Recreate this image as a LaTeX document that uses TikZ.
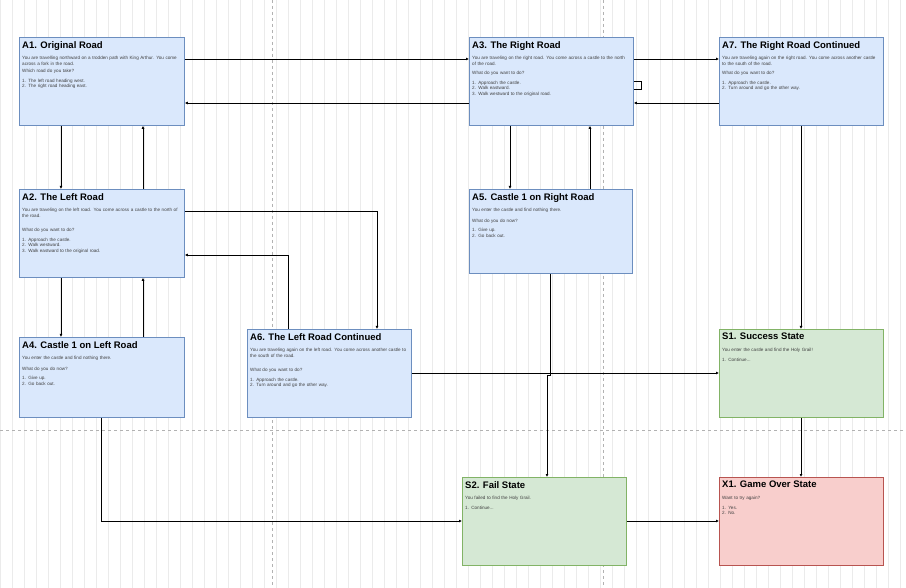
\documentclass[tikz,border=0pt]{standalone}
\usepackage{fontspec}
\setmainfont{Liberation Sans}
\usetikzlibrary{arrows.meta}
\definecolor{bfill}{HTML}{DAE8FC}\definecolor{bdraw}{HTML}{6C8EBF}
\definecolor{gfill}{HTML}{D5E8D4}\definecolor{gdraw}{HTML}{82B366}
\definecolor{rfill}{HTML}{F8CECC}\definecolor{rdraw}{HTML}{B85450}
\begin{document}
\begin{tikzpicture}[x=1pt,y=-1pt,
  box/.style={draw=bdraw,fill=bfill,line width=0.8pt},
  gbox/.style={draw=gdraw,fill=gfill,line width=0.8pt},
  rbox/.style={draw=rdraw,fill=rfill,line width=0.8pt},
  txt/.style={anchor=north west,align=left,text width=158pt,inner sep=0pt,font=\fontsize{4.6}{5.6}\selectfont,text=black!75},
  ttl/.style={anchor=north west,inner sep=0pt,font=\fontsize{9.5}{11}\selectfont\bfseries},
  e/.style={draw,line width=0.7pt,-{Latex[length=3pt,width=3pt]}}]
\useasboundingbox (0,0) rectangle (906,588);
\fill[white] (0,0) rectangle (906,588);
\draw[black!8,line width=0.4pt,step=12] (0,0) grid (906,588);
\draw[black!30,dashed,line width=0.5pt] (272,0)--(272,588) (603,0)--(603,588) (0,430)--(906,430);
% boxes
\newcommand{\bx}[9]{%
 \node[#1,minimum width=#4-#2,minimum height=#5-#3,inner sep=0pt,anchor=north west] (#6) at (#2,#3) {};
 \node[ttl] at (#2+3,#3+4) {#7};
 \node[txt] at (#2+3,#3+19) {#8};}
\bx{box}{19}{37}{184}{125}{A1}{A1. Original Road}{You are travelling northward on a trodden path with King Arthur. You come across a fork in the road.\\[2pt]Which road do you take?\\[4pt]1. The left road heading west.\\2. The right road heading east.}{}
\bx{box}{19}{189}{184}{277}{A2}{A2. The Left Road}{You are traveling on the left road. You come across a castle to the north of the road.\\[9pt]What do you want to do?\\[4pt]1. Approach the castle.\\2. Walk westward.\\3. Walk eastward to the original road.}{}
\bx{box}{19}{337}{184}{417}{A4}{A4. Castle 1 on Left Road}{You enter the castle and find nothing there.\\[5pt]What do you do now?\\[4pt]1. Give up.\\2. Go back out.}{}
\bx{box}{247}{329}{411}{417}{A6}{A6. The Left Road Continued}{You are traveling again on the left road. You come across another castle to the south of the road.\\[9pt]What do you want to do?\\[4pt]1. Approach the castle.\\2. Turn around and go the other way.}{}
\bx{box}{469}{37}{633}{125}{A3}{A3. The Right Road}{You are traveling on the right road. You come across a castle to the north of the road.\\[4pt]What do you want to do?\\[4pt]1. Approach the castle.\\2. Walk eastward.\\3. Walk westward to the original road.}{}
\bx{box}{469}{189}{632}{273}{A5}{A5. Castle 1 on Right Road}{You enter the castle and find nothing there.\\[5pt]What do you do now?\\[4pt]1. Give up.\\2. Go back out.}{}
\bx{box}{719}{37}{883}{125}{A7}{A7. The Right Road Continued}{You are traveling again on the right road. You come across another castle to the south of the road.\\[4pt]What do you want to do?\\[4pt]1. Approach the castle.\\2. Turn around and go the other way.}{}
\bx{gbox}{719}{329}{883}{417}{S1}{S1. Success State}{You enter the castle and find the Holy Grail!\\[4pt]1. Continue...}{}
\bx{gbox}{462}{477}{626}{565}{S2}{S2. Fail State}{You failed to find the Holy Grail.\\[4pt]1. Continue...}{}
\bx{rbox}{719}{477}{883}{565}{X1}{X1. Game Over State}{Want to try again?\\[4pt]1. Yes.\\2. No.}{}
% edges
\path[e] (A1.east|-0,59) -- (A3.west|-0,59);
\path[e] (A3.east|-0,59) -- (A7.west|-0,59);
\path[e] (A7.west|-0,103) -- (A3.east|-0,103);
\path[e] (A3.west|-0,103) -- (A1.east|-0,103);
\draw[line width=0.7pt] (A3.east|-0,81) -- (641,81) -- (641,89) -- (A3.east|-0,89);
\path[e] (A1.south-|61,0) -- (A2.north-|61,0);
\path[e] (A2.north-|143,0) -- (A1.south-|143,0);
\path[e] (A2.south-|61,0) -- (A4.north-|61,0);
\path[e] (A4.north-|143,0) -- (A2.south-|143,0);
\path[e] (A2.east|-0,211) -| (A6.north-|377,0);
\path[e] (A6.north-|288,0) |- (A2.east|-0,255);
\path[e] (A3.south-|510,0) -- (A5.north-|510,0);
\path[e] (A5.north-|590,0) -- (A3.south-|590,0);
\path[e] (A7.south-|801,0) -- (S1.north-|801,0);
\path[e] (A6.east|-0,373) -- (S1.west|-0,373);
\path[e] (A5.south-|550,0) -- (550,375) -- (547,375) -- (S2.north-|547,0);
\path[e] (A4.south-|101,0) |- (S2.west|-0,521);
\path[e] (S2.east|-0,521) -- (X1.west|-0,521);
\path[e] (S1.south-|801,0) -- (X1.north-|801,0);
\end{tikzpicture}
\end{document}
